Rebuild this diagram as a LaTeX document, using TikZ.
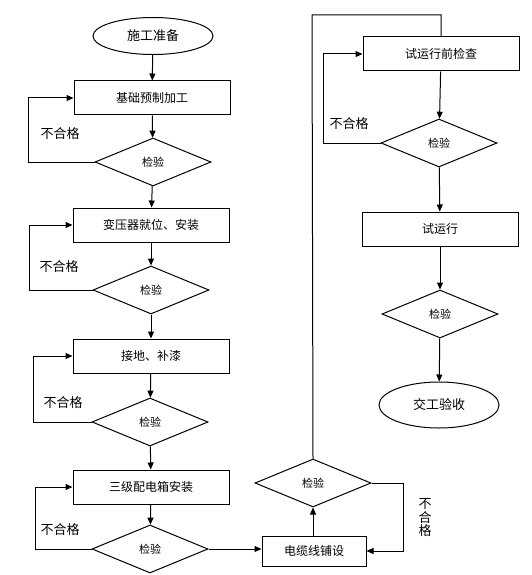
\documentclass[tikz,border=0pt]{standalone}
\usepackage{fontspec}
\newfontfamily\cjk{Noto Sans CJK SC}
\usetikzlibrary{shapes.geometric,arrows.meta}
\begin{document}
\begin{tikzpicture}[x=1pt,y=-1pt,
  every node/.style={font=\cjk\fontsize{12}{14}\selectfont},
  box/.style={draw,line width=1pt,minimum width=156pt,minimum height=34pt,inner sep=0pt},
  chk/.style={draw,diamond,line width=1pt,minimum width=116pt,minimum height=48pt,inner sep=0pt,font=\cjk\fontsize{11}{13}\selectfont},
  oval/.style={draw,ellipse,line width=1pt,minimum width=120pt,inner sep=0pt,font=\cjk\fontsize{13}{15}\selectfont},
  lbl/.style={font=\cjk\fontsize{13}{15}\selectfont},
  arr/.style={-{Triangle[length=7pt,width=6pt]},line width=1pt},
  ln/.style={line width=1pt}]
\useasboundingbox (0,0) rectangle (532,575);
% left column
\node[oval,minimum height=37pt] (s) at (153,36) {施工准备};
\node[box] (b1) at (152,98) {基础预制加工};
\node[chk] (d1) at (153,162) {检验};
\node[box] (b2) at (151,225) {变压器就位、安装};
\node[chk] (d2) at (151,290) {检验};
\node[box] (b3) at (151,356) {接地、补漆};
\node[chk] (d3) at (150,422) {检验};
\node[box] (b4) at (151,487) {三级配电箱安装};
\node[chk] (d4) at (150,549) {检验};
% middle
\node[box,minimum width=104pt,minimum height=30pt] (b5) at (314,551) {电缆线铺设};
\node[chk] (d5) at (313,483) {检验};
% right column
\node[box] (b6) at (441,54) {试运行前检查};
\node[chk] (d6) at (439,143) {检验};
\node[box] (b7) at (440,229) {试运行};
\node[chk] (d7) at (440,314) {检验};
\node[oval,minimum height=46pt] (e) at (439,405) {交工验收};
% labels
\node[lbl] (n1) at (60,134) {不合格};
\node[lbl] (n2) at (59,267) {不合格};
\node[lbl] (n3) at (63,403) {不合格};
\node[lbl] (n4) at (60,530) {不合格};
\node[lbl] (n6) at (349,124) {不合格};
\node[lbl,align=center,font=\cjk\fontsize{13}{13.5}\selectfont] (n5) at (425,518) {不\\合\\格};
% coordinates
\coordinate (c1) at (28,162);
\coordinate (c2) at (29,290);
\coordinate (c3) at (33,422);
\coordinate (c4) at (35,549);
\coordinate (c5) at (403,483);
\coordinate (c6) at (323,143);
\coordinate (t1) at (312,15);
% main flow
\draw[arr] (s) -- (b1);
\draw[arr] (b1) -- (d1);
\draw[arr] (d1) -- (b2);
\draw[arr] (b2) -- (d2);
\draw[arr] (d2) -- (b3);
\draw[arr] (b3) -- (d3);
\draw[arr] (d3) -- (b4);
\draw[arr] (b4) -- (d4);
\draw[arr] (d4.east) -- (b5.west |- d4.east);
\draw[arr] (b5.north -| d5.south) -- (d5.south);
\draw[ln] (d5.north) -- (t1) -| (b6.north);
\draw[arr] (b6) -- (d6);
\draw[arr] (d6) -- (b7);
\draw[arr] (b7) -- (d7);
\draw[arr] (d7) -- (e);
% feedback loops
\draw[arr] (d1.west) -- (c1) |- (b1.west);
\draw[arr] (d2.west) -- (c2) |- (b2.west);
\draw[arr] (d3.west) -- (c3) |- (b3.west);
\draw[arr] (d4.west) -- (c4) |- (b4.west);
\draw[arr] (d5.east) -- (c5) |- (b5.east);
\draw[arr] (d6.west) -- (c6) |- (b6.west);
\end{tikzpicture}
\end{document}
